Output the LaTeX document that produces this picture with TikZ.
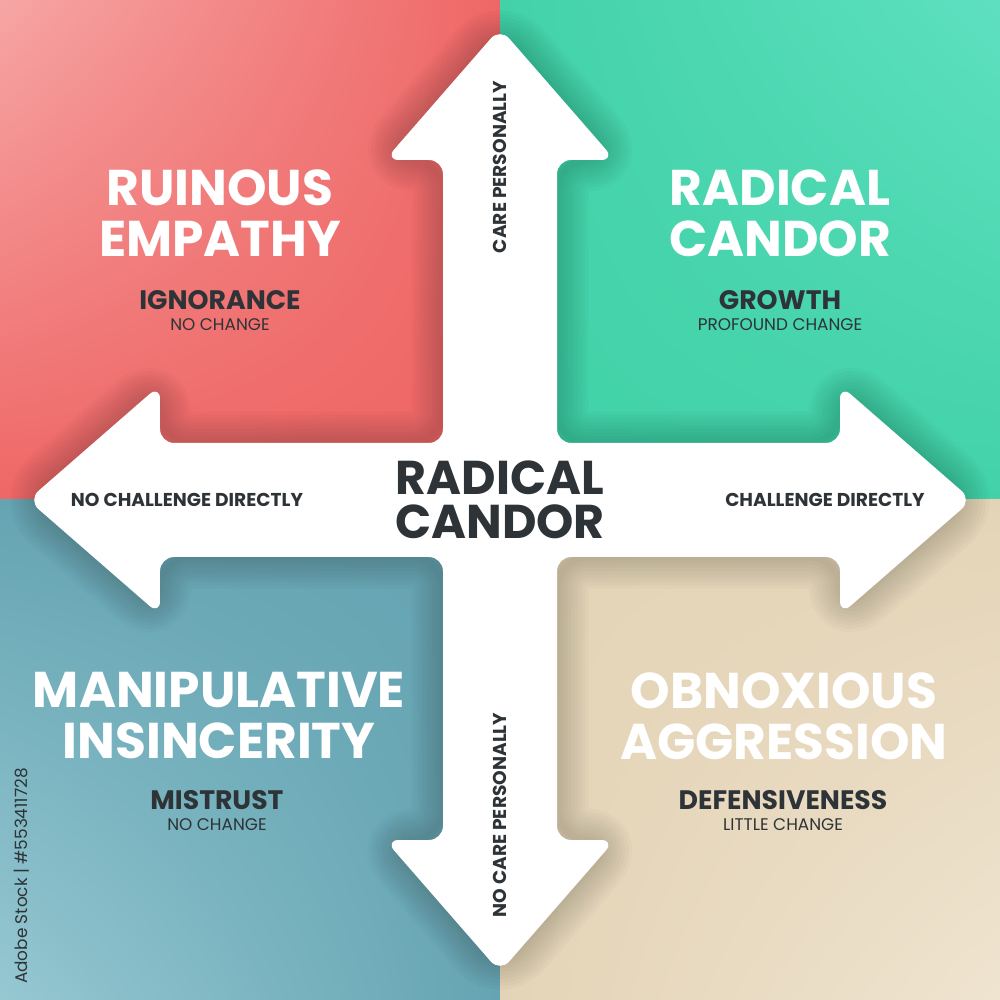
\documentclass[tikz,border=0pt]{standalone}
\usepackage{fontspec}
\setmainfont{Poppins}
\usepackage{tikz}
\usetikzlibrary{positioning, calc, shadings}
\definecolor{quadred}{RGB}{238,103,102}
\definecolor{quadredlight}{RGB}{246,166,165}
\definecolor{quadgreen}{RGB}{66,210,168}
\definecolor{quadgreenlight}{RGB}{94,224,192}
\definecolor{quadteal}{RGB}{101,164,178}
\definecolor{quadteallight}{RGB}{150,200,210}
\definecolor{quadbeige}{RGB}{228,212,183}
\definecolor{quadbeigelight}{RGB}{239,228,208}
\definecolor{textdark}{RGB}{46,51,55}
\tikzset{
    quadtitle/.style={
        align=center,
        text=white,
        font=\fontsize{14.3}{14.5}\selectfont\bfseries,
        inner sep=0pt
    },
    quadsub/.style={text=textdark, font=\fontsize{7.6}{8}\selectfont\bfseries, inner sep=0pt},
    quadnote/.style={text=textdark, font=\fontsize{4.8}{5}\selectfont, inner sep=0pt},
    axislabel/.style={text=textdark, font=\fontsize{5.3}{6}\selectfont\bfseries, inner sep=0pt},
    centertitle/.style={align=center, text=textdark, font=\fontsize{13.5}{12.4}\selectfont\bfseries, inner sep=0pt},
    crossshadow/.style={draw=black, opacity=0.018, rounded corners=9pt},
    crossfill/.style={fill=white, rounded corners=4pt}
}
% outline of the four way arrow
\newcommand{\crossoutline}{(0,4.72) -- (1.15,3.40) -- (0.57,3.40) -- (0.57,0.57) -- (3.40,0.57) -- (3.40,1.15) -- (4.72,0) -- (3.40,-1.15) -- (3.40,-0.57) -- (0.57,-0.57) -- (0.57,-3.40) -- (1.15,-3.40) -- (0,-4.72) -- (-1.15,-3.40) -- (-0.57,-3.40) -- (-0.57,-0.57) -- (-3.40,-0.57) -- (-3.40,-1.15) -- (-4.72,0) -- (-3.40,1.15) -- (-3.40,0.57) -- (-0.57,0.57) -- (-0.57,3.40) -- (-1.15,3.40) -- cycle}

\begin{document}
\begin{tikzpicture}

    \useasboundingbox (-5,-5) rectangle (5,5);

    % 1. Cuadrantes
    \shade[upper left=quadredlight, upper right=quadred, lower left=quadred, lower right=quadred] (-5,0) rectangle (0,5);
    \shade[upper left=quadgreen, upper right=quadgreenlight, lower left=quadgreen, lower right=quadgreen] (0,0) rectangle (5,5);
    \shade[upper left=quadteal, upper right=quadteal, lower left=quadteallight, lower right=quadteal] (-5,-5) rectangle (0,0);
    \shade[upper left=quadbeige, upper right=quadbeige, lower left=quadbeige, lower right=quadbeigelight] (0,-5) rectangle (5,0);

    % 2. Flecha en cruz (sombra + relleno)
    \foreach \w in {2,4,...,18} {
        \draw[crossshadow, line width=\w pt] \crossoutline;
    }
    \fill[crossfill] \crossoutline;

    % 3. Titulos de cuadrantes
    \node[quadtitle] (ruinous) at (-2.80, 2.87) {RUINOUS\\EMPATHY};
    \node[quadsub] (ignorance) at (-2.80, 2.00) {IGNORANCE};
    \node[quadnote] (ruinous_note) at (-2.80, 1.75) {NO CHANGE};

    \node[quadtitle] (radical) at (2.80, 2.87) {RADICAL\\CANDOR};
    \node[quadsub] (growth) at (2.80, 2.00) {GROWTH};
    \node[quadnote] (radical_note) at (2.80, 1.75) {PROFOUND CHANGE};

    \node[quadtitle] (manipulative) at (-2.81, -2.16) {MANIPULATIVE\\INSINCERITY};
    \node[quadsub] (mistrust) at (-2.83, -3.00) {MISTRUST};
    \node[quadnote] (manipulative_note) at (-2.83, -3.25) {NO CHANGE};

    \node[quadtitle] (obnoxious) at (2.84, -2.16) {OBNOXIOUS\\AGGRESSION};
    \node[quadsub] (defensive) at (2.83, -3.00) {DEFENSIVENESS};
    \node[quadnote] (obnoxious_note) at (2.83, -3.25) {LITTLE CHANGE};

    % 4. Centro
    \node[centertitle] (center_title) at (0, 0) {RADICAL\\CANDOR};

    % 5. Etiquetas de ejes
    \node[axislabel, rotate=90] (care) at (0, 3.33) {CARE PERSONALLY};
    \node[axislabel, rotate=90] (nocare) at (0, -3.15) {NO CARE PERSONALLY};
    \node[axislabel] (nochallenge) at (-3.13, 0) {NO CHALLENGE DIRECTLY};
    \node[axislabel] (challenge) at (3.25, 0) {CHALLENGE DIRECTLY};

    % Marca lateral
    \node[text=textdark, font=\fontsize{4.8}{5}\selectfont, rotate=90, inner sep=0pt] (stock_id) at (-4.78, -3.76) {Adobe Stock | \#553411728};

\end{tikzpicture}
\end{document}
